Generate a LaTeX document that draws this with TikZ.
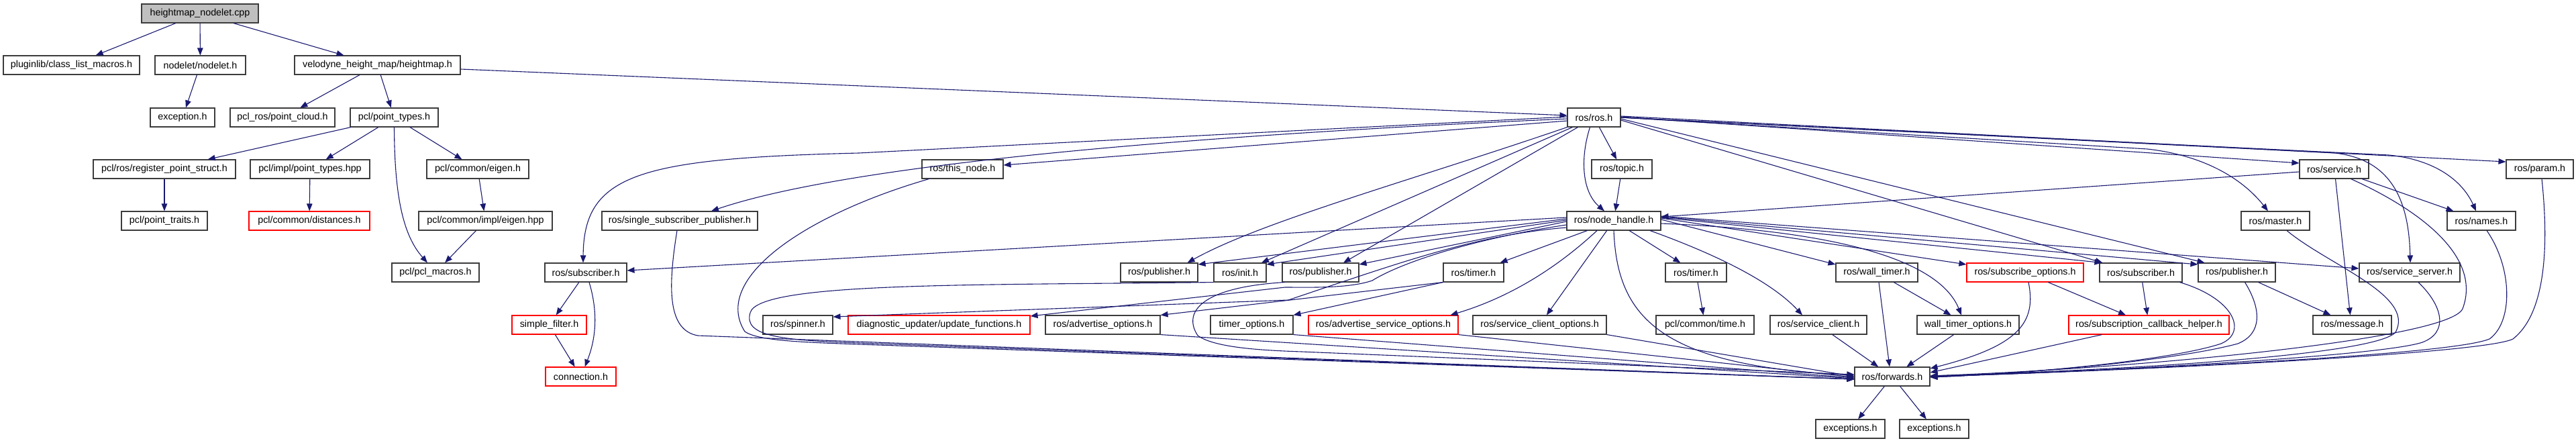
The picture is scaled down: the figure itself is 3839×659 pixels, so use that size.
\documentclass[tikz,border=0pt]{standalone}
\usepackage{fontspec}
\setmainfont{Liberation Sans}
\usetikzlibrary{arrows.meta}
\definecolor{edgeblue}{RGB}{25,25,112}
\definecolor{nodegray}{RGB}{60,60,60}
\newcommand\gfs{\fontsize{14.3}{16}\selectfont}
\begin{document}
\begin{tikzpicture}[x=1pt,y=-1pt,
  box/.style={draw=nodegray, line width=1.1pt, minimum height=28pt, inner sep=0pt, font=\gfs, text=black},
  redbox/.style={box, draw=red},
  e/.style={draw=edgeblue, line width=1.1pt, -{Triangle[length=11pt,width=8.5pt]}}]
\useasboundingbox (0,0) rectangle (3839,659);
% row 1
\node[box,fill=gray!50,minimum width=174pt] (cpp) at (298,20) {heightmap\_nodelet.cpp};
% row 2
\node[box,minimum width=203pt] (pluginlib) at (106.5,97) {pluginlib/class\_list\_macros.h};
\node[box,minimum width=135pt] (nodelet) at (298.5,97) {nodelet/nodelet.h};
\node[box,minimum width=247pt] (heightmap) at (562.5,97) {velodyne\_height\_map/heightmap.h};
% row 3
\node[box,minimum width=96pt] (exception) at (272,175) {exception.h};
\node[box,minimum width=156pt] (pclros) at (421,175) {pcl\_ros/point\_cloud.h};
\node[box,minimum width=131pt] (pointtypes) at (587.5,175) {pcl/point\_types.h};
\node[box,minimum width=79pt] (rosros) at (2375.5,175) {ros/ros.h};
% row 4
\node[box,minimum width=212pt] (regps) at (245,252) {pcl/ros/register\_point\_struct.h};
\node[box,minimum width=178pt] (implpt) at (462,252) {pcl/impl/point\_types.hpp};
\node[box,minimum width=152pt] (eigen) at (712,252) {pcl/common/eigen.h};
\node[box,minimum width=121pt] (thisnode) at (1434.5,252) {ros/this\_node.h};
\node[box,minimum width=90pt] (topic) at (2417,252) {ros/topic.h};
\node[box,minimum width=103pt] (service) at (3478.5,252) {ros/service.h};
\node[box,minimum width=100pt] (param) at (3785,252) {ros/param.h};
% row 5
\node[box,minimum width=128pt] (ptraits) at (245,329) {pcl/point\_traits.h};
\node[redbox,minimum width=180pt] (distances) at (461,329) {pcl/common/distances.h};
\node[box,minimum width=199pt] (impleigen) at (723.5,329) {pcl/common/impl/eigen.hpp};
\node[box,minimum width=232pt] (ssp) at (1013,329) {ros/single\_subscriber\_publisher.h};
\node[box,minimum width=140pt] (nh) at (2405,329) {ros/node\_handle.h};
\node[box,minimum width=102pt] (master) at (3391,329) {ros/master.h};
\node[box,minimum width=102pt] (names) at (3698,329) {ros/names.h};
% row 6
\node[box,minimum width=130pt] (pclmacros) at (649,406) {pcl/pcl\_macros.h};
\node[box,minimum width=122pt] (sub1) at (873,406) {ros/subscriber.h};
\node[box,minimum width=115pt] (pub1) at (1727.5,406) {ros/publisher.h};
\node[box,minimum width=78pt] (init) at (1848,406) {ros/init.h};
\node[box,minimum width=114pt] (pub2) at (1968,406) {ros/publisher.h};
\node[box,minimum width=90pt] (timer1) at (2196,406) {ros/timer.h};
\node[box,minimum width=91pt] (timer2) at (2527.5,406) {ros/timer.h};
\node[box,minimum width=122pt] (walltimer) at (2797,406) {ros/wall\_timer.h};
\node[redbox,minimum width=174pt] (subopts) at (3018,406) {ros/subscribe\_options.h};
\node[box,minimum width=123pt] (sub2) at (3190.5,406) {ros/subscriber.h};
\node[box,minimum width=115pt] (pub3) at (3333.5,406) {ros/publisher.h};
\node[box,minimum width=150pt] (srvserver) at (3591,406) {ros/service\_server.h};
% row 7
\node[redbox,minimum width=111pt] (simplefilter) at (818.5,484) {simple\_filter.h};
\node[box,minimum width=104pt] (spinner) at (1189,484) {ros/spinner.h};
\node[redbox,minimum width=271pt] (diag) at (1399.5,484) {diagnostic\_updater/update\_functions.h};
\node[box,minimum width=171pt] (advopts) at (1643.5,484) {ros/advertise\_options.h};
\node[box,minimum width=123pt] (timeropts) at (1865.5,484) {timer\_options.h};
\node[redbox,minimum width=223pt] (advsrvopts) at (2061.5,484) {ros/advertise\_service\_options.h};
\node[box,minimum width=199pt] (srvclientopts) at (2294.5,484) {ros/service\_client\_options.h};
\node[box,minimum width=146pt] (pcltime) at (2541,484) {pcl/common/time.h};
\node[box,minimum width=144pt] (srvclient) at (2710,484) {ros/service\_client.h};
\node[box,minimum width=152pt] (wallopts) at (2933,484) {wall\_timer\_options.h};
\node[redbox,minimum width=239pt] (subcb) at (3202.5,484) {ros/subscription\_callback\_helper.h};
\node[box,minimum width=117pt] (message) at (3505.5,484) {ros/message.h};
% row 8
\node[redbox,minimum width=105pt] (connection) at (865.5,561) {connection.h};
\node[box,minimum width=112pt] (forwards) at (2820,561) {ros/forwards.h};
% row 9
\node[box,minimum width=103pt] (exc1) at (2757.5,639) {exceptions.h};
\node[box,minimum width=103pt] (exc2) at (2882.5,639) {exceptions.h};

% ---------- edges: top part
\draw[e] (cpp) -- (pluginlib);
\draw[e] (cpp) -- (nodelet);
\draw[e] (cpp) -- (heightmap);
\draw[e] (nodelet) -- (exception);
\draw[e] (heightmap) -- (pclros);
\draw[e] (heightmap) -- (pointtypes);
\draw[e] ([yshift=-6pt]heightmap.east) -- ([yshift=3pt]rosros.west);
\draw[e] (pointtypes) -- (regps);
\draw[e] (pointtypes) -- (implpt);
\draw[e] (pointtypes) -- (eigen);
\draw[e] (pointtypes.south) .. controls (588,290) and (600,350) .. ([xshift=-12pt]pclmacros.north);
\draw[e] (regps) -- (ptraits);
\draw[e] (implpt) -- (distances);
\draw[e] (eigen) -- (impleigen);
\draw[e] (impleigen) -- (pclmacros);
\draw[e] (sub1) -- (simplefilter);
\draw[e] ([xshift=5pt]sub1.south) .. controls (890,460) and (890,500) .. ([xshift=6pt]connection.north);
\draw[e] (simplefilter) -- (connection);

% ---------- ros/ros.h
\draw[e] ([yshift=-5pt]rosros.west) -- ([yshift=6pt]thisnode.east);
\draw[e] (rosros) -- (topic);
\draw[e] ([xshift=-6pt]rosros.south) .. controls (2355,235) and (2357,285) .. ([xshift=-14pt]nh.north);
\draw[e] (topic) -- (nh);
\draw[e] ([yshift=-2pt]rosros.west) .. controls (1700,205) and (1250,250) .. ([xshift=47pt]ssp.north);
\draw[e] ([yshift=1pt]rosros.west) -- (1280,228) .. controls (950,236) and (870,260) .. ([xshift=-4pt]sub1.north);
\draw[e] (rosros.south west) .. controls (2100,270) and (1880,330) .. ([xshift=42pt]pub1.north);
\draw[e] ([xshift=8pt]rosros.south west) -- ([xshift=32pt]init.north);
\draw[e] ([xshift=16pt]rosros.south west) -- ([xshift=34pt]pub2.north);
\draw[e] ([yshift=1pt]rosros.east) -- ([yshift=9pt]service.west);
\draw[e] ([yshift=2pt]rosros.east) -- ([yshift=11pt]param.west);
\draw[e] (rosros.east) -- (3200,222) .. controls (3290,232) and (3345,270) .. ([xshift=-11pt]master.north);
\draw[e] (rosros.east) -- (3560,231) .. controls (3630,238) and (3670,270) .. ([xshift=-8pt]names.north);
\draw[e] (rosros.east) -- (3480,228) .. controls (3565,238) and (3590,300) .. ([xshift=1pt]srvserver.north);
\draw[e] ([yshift=-4pt]rosros.east) -- ([xshift=-57pt]sub2.north);
\draw[e] ([yshift=-2pt]rosros.east) -- ([xshift=-48pt]pub3.north);

% ---------- right side
\draw[e] ([yshift=-4pt]service.west) -- ([yshift=6pt]nh.east);
\draw[e] (service) -- (names);
\draw[e] ([xshift=2pt]service.south) -- ([xshift=-3pt]message.north);
\draw[e] ([xshift=25pt]service.south) .. controls (3600,310) and (3700,380) .. (3670,460) .. controls (3650,505) and (3200,548) .. ([yshift=1pt]forwards.east);
\draw[e] ([xshift=17pt]master.south) .. controls (3470,395) and (3600,440) .. (3570,495) .. controls (3540,530) and (3150,552) .. ([yshift=1pt]forwards.east);
\draw[e] ([xshift=8pt]names.south) .. controls (3745,400) and (3745,480) .. (3710,505) .. controls (3650,530) and (3150,552) .. (forwards.east);
\draw[e] ([xshift=3pt]param.south) .. controls (3800,380) and (3790,470) .. (3745,505) .. controls (3700,528) and (3150,553) .. (forwards.east);
\draw[e] ([xshift=13pt]srvserver.south) .. controls (3640,455) and (3650,495) .. (3610,510) .. controls (3550,530) and (3150,553) .. (forwards.east);
\draw[e] ([xshift=12pt]pub3.south) .. controls (3370,460) and (3372,497) .. (3335,512) .. controls (3250,535) and (3050,555) .. ([yshift=-1pt]forwards.east);
\draw[e] ([xshift=58pt]sub2.south) .. controls (3330,445) and (3350,495) .. (3310,512) .. controls (3240,535) and (3050,555) .. ([yshift=-1pt]forwards.east);
\draw[e] (pub3) -- (message);
\draw[e] (sub2) -- (subcb);
\draw[e] (subopts) -- (subcb);
\draw[e] ([xshift=5pt]subopts.south) .. controls (3035,480) and (3010,515) .. ([yshift=12pt]forwards.east);
\draw[e] ([xshift=-70pt]subcb.south) -- ([yshift=6pt]forwards.east);
\draw[e] ([xshift=3pt]walltimer.south) -- ([xshift=-4pt]forwards.north);
\draw[e] (walltimer) -- (wallopts);
\draw[e] (wallopts) -- (forwards);
\draw[e] (srvclient) -- (forwards);
\draw[e] (forwards) -- (exc1);
\draw[e] (forwards) -- (exc2);
\draw[e] (timer2) -- (pcltime);

% ---------- node_handle.h
\draw[e] ([yshift=-4pt]nh.east) .. controls (2780,345) and (2895,400) .. ([xshift=-10pt]wallopts.north);
\draw[e] ([xshift=54pt]nh.south) .. controls (2560,380) and (2640,420) .. ([xshift=-24pt]srvclient.north);
\draw[e] ([yshift=2pt]nh.east) -- ([yshift=12pt]walltimer.west);
\draw[e] ([yshift=4pt]nh.east) -- ([yshift=12pt]subopts.west);
\draw[e] ([yshift=5pt]nh.east) -- ([xshift=4pt]sub2.north west);
\draw[e] ([yshift=6pt]nh.east) -- ([yshift=12pt]pub3.west);
\draw[e] ([yshift=7pt]nh.east) -- ([yshift=6pt]srvserver.west);
\draw[e] (nh) -- (timer1);
\draw[e] (nh) -- (timer2);
\draw[e] (nh) -- (srvclientopts);
\draw[e] ([xshift=-25pt]nh.south) .. controls (2330,390) and (2260,440) .. ([xshift=100pt]advsrvopts.north);
\draw[e] (nh.south) .. controls (2410,470) and (2470,545) .. ([yshift=2pt]forwards.west);
\draw[e] ([yshift=5pt]nh.west) -- ([yshift=3pt]sub1.east);
\draw[e] ([yshift=3pt]nh.west) -- ([yshift=12pt]pub1.east);
\draw[e] ([yshift=1pt]nh.west) -- ([yshift=12pt]init.east);
\draw[e] ([yshift=-1pt]nh.west) -- ([yshift=12pt]pub2.east);
\draw[e] ([yshift=-6pt]nh.west) .. controls (2200,355) and (2090,390) .. (2045,418) .. controls (2010,430) and (1950,428) .. (1915,428) -- ([yshift=13pt]diag.east);
\draw[e] ([yshift=-10pt]nh.west) .. controls (2200,350) and (2090,390) .. (1920,447) -- ([yshift=12pt]spinner.east);
\draw[e] (timer1.south west) -- (advopts.north east);
\draw[e] (timer1.south west) -- (timeropts.north east);

% ---------- into ros/forwards.h from the left
\draw[e] ([xshift=4pt]pub2.south west) .. controls (1790,428) and (1762,465) .. (1785,500) .. controls (1810,518) and (1880,522) .. (1940,524) -- ([yshift=3pt]forwards.west);
\draw[e] (advopts.south east) -- ([yshift=-3pt]forwards.west);
\draw[e] (timeropts.south east) -- ([yshift=-2pt]forwards.west);
\draw[e] (advsrvopts.south east) -- ([yshift=-1pt]forwards.west);
\draw[e] (srvclientopts.south east) -- (forwards.west);
\draw[e] ([xshift=-4pt]ssp.south) .. controls (995,430) and (995,492) .. (1040,500) -- ([yshift=-4pt]forwards.west);
\draw[e] ([xshift=-50pt]thisnode.south) .. controls (1200,320) and (1060,415) .. (1110,494) .. controls (1130,508) and (1200,510) .. (1280,513) -- ([yshift=-4pt]forwards.west);
\draw[e] (init.south west) .. controls (1450,425) and (1130,420) .. (1118,466) .. controls (1108,500) and (1160,507) .. (1280,511) -- ([yshift=-4pt]forwards.west);
\end{tikzpicture}
\end{document}
